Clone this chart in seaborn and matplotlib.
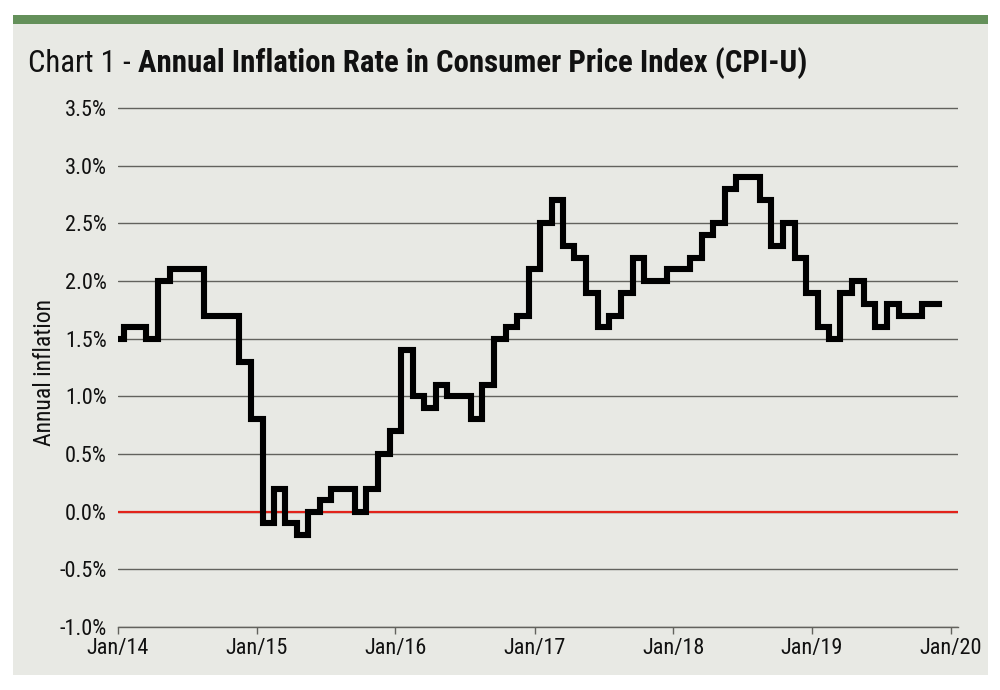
import pandas as pd
import numpy as np
import matplotlib
matplotlib.use("Agg")
import matplotlib.pyplot as plt
from matplotlib.patches import Rectangle
from matplotlib import font_manager
import seaborn as sns

# Annual inflation rate, CPI-U (%), monthly
rate_2014 = [1.5, 1.6, 1.6, 1.5, 2.0, 2.1, 2.1, 2.1, 1.7, 1.7, 1.7, 1.3]
rate_2015 = [0.8, -0.1, 0.2, -0.1, -0.2, 0.0, 0.1, 0.2, 0.2, 0.0, 0.2, 0.5]
rate_2016 = [0.7, 1.4, 1.0, 0.9, 1.1, 1.0, 1.0, 0.8, 1.1, 1.5, 1.6, 1.7]
rate_2017 = [2.1, 2.5, 2.7, 2.3, 2.2, 1.9, 1.6, 1.7, 1.9, 2.2, 2.0, 2.0]
rate_2018 = [2.1, 2.1, 2.2, 2.4, 2.5, 2.8, 2.9, 2.9, 2.7, 2.3, 2.5, 2.2]
rate_2019 = [1.9, 1.6, 1.5, 1.9, 2.0, 1.8, 1.6, 1.8, 1.7, 1.7, 1.8, 1.8]

inflation = rate_2014 + rate_2015 + rate_2016 + rate_2017 + rate_2018 + rate_2019
months = pd.date_range("2014-01-01", periods=len(inflation), freq="MS")
df = pd.DataFrame({"month": months, "inflation": inflation})

y_ticks = [-1.0, -0.5, 0.0, 0.5, 1.0, 1.5, 2.0, 2.5, 3.0, 3.5]
year_ticks = pd.date_range("2014-01-01", "2020-01-01", freq="YS")
year_labels = ["Jan/14", "Jan/15", "Jan/16", "Jan/17", "Jan/18", "Jan/19", "Jan/20"]

sns.set_theme(style="white")
# pick the narrowest family we can find
names = {f.name for f in font_manager.fontManager.ttflist}
narrow = [n for n in ["Liberation Sans Narrow", "Roboto Condensed", "Open Sans Condensed",
                      "Noto Sans Condensed", "DejaVu Sans Condensed"] if n in names]
plt.rcParams["font.family"] = narrow + ["Liberation Sans", "DejaVu Sans"]
plt.rcParams["font.stretch"] = "condensed"

fig = plt.figure(figsize=(10, 6.9), dpi=100)
fig.patch.set_facecolor("white")

# panel background + green top bar
fig.add_artist(Rectangle((0.013, 1 - 675 / 690), 0.975, (675 - 23) / 690,
                         transform=fig.transFigure, facecolor="#e8e9e4",
                         edgecolor="none", zorder=0))
fig.add_artist(Rectangle((0.013, 1 - 24 / 690), 0.975, 9 / 690,
                         transform=fig.transFigure, facecolor="#64905a",
                         edgecolor="none", zorder=0))

ax = fig.add_axes([0.118, 1 - 627 / 690, 0.840, (627 - 96.5) / 690])
ax.set_facecolor("none")

sns.lineplot(data=df, x="month", y="inflation", ax=ax, color="black",
             linewidth=4.4, drawstyle="steps-mid", zorder=4,
             solid_joinstyle="miter", solid_capstyle="projecting")

ax.axhline(0, color="#e2231a", linewidth=1.6, zorder=3)

ax.set_ylim(-1.0, 3.6)
ax.set_xlim(pd.Timestamp("2014-01-01"), pd.Timestamp("2020-01-20"))
ax.set_yticks(y_ticks)
ax.set_yticklabels([f"{v:.1f}%" for v in y_ticks])
ax.set_xticks(year_ticks)
ax.set_xticklabels(year_labels)

ax.yaxis.grid(True, color="#62625d", linewidth=1.0)
ax.set_axisbelow(True)
for s in ["top", "right", "left"]:
    ax.spines[s].set_visible(False)
ax.spines["bottom"].set_color("#62625d")
ax.spines["bottom"].set_linewidth(1.0)

ax.tick_params(axis="y", length=0, pad=8, labelsize=16, labelcolor="#111111")
ax.tick_params(axis="x", bottom=True, direction="out", length=5, width=1,
               color="#62625d", pad=3, labelsize=16, labelcolor="#111111")
ax.set_xlabel("")
ax.set_ylabel("")

fig.text(0.045, 1 - 372 / 690, "Annual inflation", rotation=90,
         ha="center", va="center", fontsize=17, color="#111111")

# title: regular + bold parts, scaled so it ends where the reference does
title_y = 1 - 63 / 690
t1 = fig.text(0.028, title_y, "Chart 1 - ", fontsize=30,
              va="center", ha="left", color="#111111")
t2 = fig.text(0.3, title_y, "Annual Inflation Rate in Consumer Price Index (CPI-U)",
              fontsize=30, fontweight="bold", va="center", ha="left", color="#111111")
fig.canvas.draw()
w = t1.get_window_extent().width + t2.get_window_extent().width
size = min(30, 30 * (808 - 28) / w)
t1.set_fontsize(size)
t2.set_fontsize(size)
fig.canvas.draw()
t2.set_x(t1.get_window_extent().x1 / fig.bbox.width)

fig.savefig("out.png", dpi=100)
